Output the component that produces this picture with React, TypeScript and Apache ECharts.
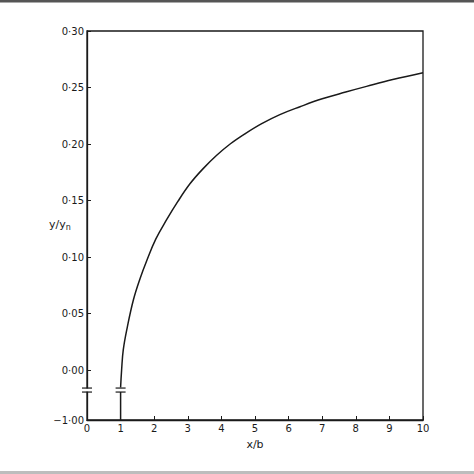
import React, { useEffect, useRef } from "react";
import * as echarts from "echarts";

// Curve y/yn against x/b
const curveX = [1.0, 1.03, 1.08, 1.2, 1.38, 1.58, 1.78, 2.05, 2.37, 2.7, 3.07, 3.45, 3.86, 4.26, 4.7, 5.2, 5.74, 6.34, 7.0, 7.7, 8.32, 9.1, 10.0];
const curveY = [-0.0155, 0.0, 0.018, 0.038, 0.062, 0.081, 0.097, 0.116, 0.133, 0.149, 0.165, 0.178, 0.19, 0.2, 0.209, 0.218, 0.226, 0.233, 0.24, 0.246, 0.251, 0.257, 0.263];
// vertical leg at x = 1 below the axis break
const legX = [1, 1];
const legY = [-0.0442, -0.0195];

const Y_BOTTOM = -0.0442; // position standing for -1.00 after the break
const Y_BREAK = -0.0177;
const yTicks = [Y_BOTTOM, 0, 0.05, 0.1, 0.15, 0.2, 0.25, 0.3];
const xTicks = [0, 1, 2, 3, 4, 5, 6, 7, 8, 9, 10];

const INK = "#1a1a1a";
const FONT = "DejaVu Sans";

export default function App() {
  const ref = useRef<HTMLDivElement>(null);
  useEffect(() => {
    if (!ref.current) return;
    const chart = echarts.init(ref.current, null, { renderer: "svg" });
    chart.setOption({
      animation: false,
      backgroundColor: "#ffffff",
      grid: {
        left: 87,
        right: 51,
        top: 31,
        bottom: 54,
        show: true,
        borderColor: INK,
        borderWidth: 1.3,
        backgroundColor: "transparent",
      },
      xAxis: {
        type: "value",
        min: 0,
        max: 10,
        interval: 1,
        name: "x/b",
        nameLocation: "middle",
        nameGap: 19,
        nameTextStyle: { color: INK, fontFamily: FONT, fontSize: 11 },
        axisLine: { show: true, onZero: false, lineStyle: { color: INK, width: 1.3 } },
        axisTick: { show: true, inside: true, length: 4, lineStyle: { color: INK, width: 1 } },
        axisLabel: {
          color: INK,
          fontFamily: FONT,
          fontSize: 10,
          margin: 3,
          customValues: xTicks,
          formatter: (v: number) => String(Math.round(v)),
        },
        splitLine: { show: false },
      },
      yAxis: {
        type: "value",
        min: Y_BOTTOM,
        max: 0.3,
        axisLine: { show: true, onZero: false, lineStyle: { color: INK, width: 1.3 } },
        axisTick: {
          show: true,
          inside: true,
          length: 4,
          customValues: yTicks.slice(1),
          lineStyle: { color: INK, width: 1 },
        },
        axisLabel: {
          color: INK,
          fontFamily: FONT,
          fontSize: 10,
          margin: 3,
          customValues: yTicks,
          formatter: (v: number) =>
            v < -0.01 ? "\u22121\u00b700" : v.toFixed(2).replace(".", "\u00b7"),
        },
        splitLine: { show: false },
      },
      series: [
        {
          type: "line",
          smooth: 0.4,
          symbol: "none",
          data: curveX.map((x, i) => [x, curveY[i]]),
          lineStyle: { color: INK, width: 1.5 },
        },
        {
          type: "line",
          symbol: "none",
          data: legX.map((x, i) => [x, legY[i]]),
          lineStyle: { color: INK, width: 1.5 },
        },
      ],
    });

    const breakMarks = (px: number[]) => {
      const [cx, cy] = px;
      return [
        {
          type: "rect",
          shape: { x: cx - 2, y: cy - 1.6, width: 4, height: 3.2 },
          style: { fill: "#ffffff" },
          z: 100,
        },
        {
          type: "line",
          shape: { x1: cx - 5, y1: cy - 2, x2: cx + 5, y2: cy - 2 },
          style: { stroke: INK, lineWidth: 1.2 },
          z: 101,
        },
        {
          type: "line",
          shape: { x1: cx - 5, y1: cy + 2, x2: cx + 5, y2: cy + 2 },
          style: { stroke: INK, lineWidth: 1.2 },
          z: 101,
        },
      ];
    };
    const p1 = chart.convertToPixel({ gridIndex: 0 }, [0, Y_BREAK]) as number[];
    const p2 = chart.convertToPixel({ gridIndex: 0 }, [1, Y_BREAK]) as number[];

    chart.setOption({
      graphic: [
        ...breakMarks(p1),
        ...breakMarks(p2),
        {
          type: "text",
          left: 49,
          top: 219,
          style: {
            text: "y/y{s|n}",
            fill: INK,
            font: `11px "${FONT}"`,
            rich: { s: { fontSize: 8, fontFamily: FONT, padding: [5, 0, 0, 0], color: INK } },
          },
        },
        {
          type: "rect",
          shape: { x: 0, y: 0, width: 474, height: 2.5 },
          style: { fill: "#555555" },
        },
        {
          type: "rect",
          shape: { x: 0, y: 471, width: 474, height: 3 },
          style: { fill: "#bdbdbd" },
        },
      ],
    });

    return () => chart.dispose();
  }, []);
  return (
    <div
      ref={ref}
      style={{ position: "fixed", left: 0, top: 0, width: 474, height: 474 }}
    />
  );
}
